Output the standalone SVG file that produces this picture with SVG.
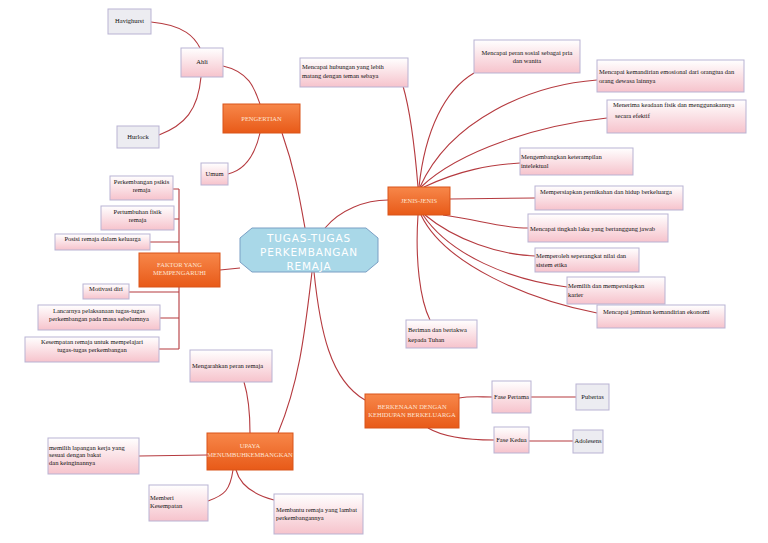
<svg xmlns="http://www.w3.org/2000/svg" width="768" height="543" viewBox="0 0 768 543">
<defs>
<linearGradient id="pk" x1="0" y1="0" x2="0" y2="1"><stop offset="0" stop-color="#ffffff"/><stop offset="1" stop-color="#f6c3cc"/></linearGradient>
<linearGradient id="or" x1="0" y1="0" x2="0" y2="1"><stop offset="0" stop-color="#f7874a"/><stop offset="1" stop-color="#e85a18"/></linearGradient>
</defs>
<style>
.p{fill:url(#pk);stroke:#b9b3d3;stroke-width:1}
.g{fill:#ececf1;stroke:#b9b3d3;stroke-width:1}
.o{fill:url(#or);stroke:#d9541a;stroke-width:1}
text{font-family:"Liberation Serif",serif;font-size:6.5px;fill:#111}
.ot{fill:#fde3d3;text-anchor:middle}
.c{text-anchor:middle}
#conn path{fill:none;stroke:#b53a3f;stroke-width:1.1}
</style>
<rect width="768" height="543" fill="#fff"/>
<g id="conn">
<path d="M151,22 C185,25 195,38 200,48"/>
<path d="M223,66 C250,72 255,90 260,104"/>
<path d="M201,77 C198,110 185,125 159,135"/>
<path d="M260,133 C255,155 245,170 228,174"/>
<path d="M282,133 C295,170 300,200 305,228"/>
<path d="M325,228 C340,210 365,200 388,200"/>
<path d="M240,268 L220,270"/>
<path d="M179,189 L179,349 M173,189 L179,189 M174,219 L179,219 M150,242 L179,242 M129,292 L179,292 M160,318 L179,318 M159,349 L179,349 M179,287 L179,287"/>
<path d="M418,187 C415,150 410,110 403,86"/>
<path d="M419,187 C425,130 445,90 474,73"/>
<path d="M420,187 C450,120 530,85 597,80"/>
<path d="M421,187 C460,150 540,125 607,118"/>
<path d="M424,187 C460,170 490,165 520,163"/>
<path d="M450,199 L535,198"/>
<path d="M443,215 C480,220 500,228 528,228"/>
<path d="M425,215 C455,240 500,255 535,256"/>
<path d="M423,215 C450,255 510,280 567,287"/>
<path d="M421,215 C445,265 530,300 597,313"/>
<path d="M418,215 C415,260 420,300 430,320"/>
<path d="M312,272 C305,330 300,380 278,433"/>
<path d="M314,272 C320,330 330,380 365,400"/>
<path d="M459,398 C470,396 480,397 492,397 M531,397 L576,397"/>
<path d="M428,428 C445,438 470,440 494,440 M529,441 L573,441"/>
<path d="M250,433 C250,410 248,395 244,382"/>
<path d="M207,455 L139,456"/>
<path d="M233,470 C230,490 225,495 208,501"/>
<path d="M236,470 C240,485 255,495 274,500"/>
</g>
<g id="havighurst"><rect class="g" x="108" y="9" width="43" height="25"/><text class="c" x="129.5" y="23">Havighurst</text></g>
<g id="ahli"><rect class="p" x="181" y="48" width="42" height="29"/><text class="c" x="202" y="64">Ahli</text></g>
<g id="hurlock"><rect class="g" x="117" y="126" width="42" height="22"/><text class="c" x="138" y="139">Hurlock</text></g>
<g id="pengertian"><rect class="o" x="223" y="104" width="77" height="29"/><text class="ot" x="261.5" y="121">PENGERTIAN</text></g>
<g id="umum"><rect class="p" x="201" y="163" width="27" height="22"/><text class="c" x="214.5" y="176">Umum</text></g>
<g id="pusat"><polygon points="252,228 366,228 378,238 378,262 366,272 252,272 240,262 240,238" fill="#a9d8e8" stroke="#7a9fc4" stroke-width="1"/>
<text x="309" y="242" style="font-family:'DejaVu Sans',sans-serif;font-size:10.5px;fill:#fff;text-anchor:middle;letter-spacing:0.8px">TUGAS-TUGAS</text>
<text x="309" y="256" style="font-family:'DejaVu Sans',sans-serif;font-size:10.5px;fill:#fff;text-anchor:middle;letter-spacing:0.8px">PERKEMBANGAN</text>
<text x="309" y="270" style="font-family:'DejaVu Sans',sans-serif;font-size:10.5px;fill:#fff;text-anchor:middle;letter-spacing:0.8px">REMAJA</text></g>
<g id="psikis"><rect class="p" x="110" y="176" width="63" height="24"/><text class="c" x="141.5" y="184">Perkembangan psikis</text><text class="c" x="141.5" y="192">remaja</text></g>
<g id="fisik"><rect class="p" x="101" y="206" width="73" height="24"/><text class="c" x="137.5" y="214">Pertumbuhan fisik</text><text class="c" x="137.5" y="222">remaja</text></g>
<g id="posisi"><rect class="p" x="55" y="234" width="95" height="16"/><text class="c" x="102.5" y="241">Posisi remaja dalam keluarga</text></g>
<g id="faktor"><rect class="o" x="139" y="253" width="81" height="34"/><text class="ot" x="179.5" y="267">FAKTOR YANG</text><text class="ot" x="179.5" y="275">MEMPENGARUHI</text></g>
<g id="motivasi"><rect class="p" x="83" y="284" width="46" height="15"/><text class="c" x="106" y="291">Motivasi diri</text></g>
<g id="lancar"><rect class="p" x="38" y="305" width="122" height="25"/><text class="c" x="99" y="313">Lancarnya pelaksanaan tugas-tugas</text><text class="c" x="99" y="321">perkembangan pada masa sebelumnya</text></g>
<g id="kesempatan"><rect class="p" x="25" y="337" width="134" height="25"/><text class="c" x="92" y="344">Kesempatan remaja untuk mempelajari</text><text class="c" x="92" y="352">tugas-tugas perkembangan</text></g>
<g id="mengarahkan"><rect class="p" x="190" y="350" width="82" height="32"/><text x="192" y="368">Mengarahkan peran remaja</text></g>
<g id="upaya"><rect class="o" x="207" y="433" width="86" height="37"/><text class="ot" x="250" y="448">UPAYA</text><text class="ot" x="250" y="457">MENUMBUHKEMBANGKAN</text></g>
<g id="memilihlap"><rect class="p" x="48" y="438" width="91" height="36"/><text x="49" y="450">memilih lapangan kerja yang</text><text x="49" y="457">sesuai dengan bakat</text><text x="49" y="465">dan keinginannya</text></g>
<g id="memberi"><rect class="p" x="149" y="485" width="59" height="36"/><text x="150" y="500">Memberi</text><text x="150" y="508">Kesempatan</text></g>
<g id="membantu"><rect class="p" x="274" y="494" width="89" height="40"/><text x="276" y="512">Membantu remaja yang lambat</text><text x="276" y="520">perkembangannya</text></g>
<g id="hubungan"><rect class="p" x="300" y="58" width="108" height="29"/><text x="302" y="69">Mencapai hubungan yang lebih</text><text x="302" y="78">matang dengan teman sebaya</text></g>
<g id="peran"><rect class="p" x="474" y="40" width="106" height="33"/><text class="c" x="527" y="55">Mencapai peran sosial sebagai pria</text><text class="c" x="527" y="63">dan wanita</text></g>
<g id="emosional"><rect class="p" x="597" y="60" width="147" height="32"/><text x="599" y="74">Mencapai kemandirian emosional dari orangtua dan</text><text x="599" y="83">orang dewasa lainnya</text></g>
<g id="menerima"><rect class="p" x="607" y="100" width="139" height="33"/><text x="613" y="107">Menerima keadaan fisik dan menggunakannya</text><text x="615" y="118">secara efektif</text></g>
<g id="intelektual"><rect class="p" x="520" y="148" width="113" height="27"/><text x="521" y="159">Mengembangkan keterampilan</text><text x="521" y="168">intelektual</text></g>
<g id="jenis"><rect class="o" x="388" y="187" width="62" height="28"/><text class="ot" x="419" y="203">JENIS-JENIS</text></g>
<g id="pernikahan"><rect class="p" x="535" y="186" width="148" height="24"/><text x="540" y="194">Mempersiapkan pernikahan dan hidup berkeluarga</text></g>
<g id="tingkah"><rect class="p" x="528" y="214" width="140" height="28"/><text x="530" y="231">Mencapai tingkah laku yang bertanggung jawab</text></g>
<g id="nilai"><rect class="p" x="535" y="248" width="104" height="24"/><text x="536" y="258">Memperoleh seperangkat nilai dan</text><text x="536" y="267">sistem etika</text></g>
<g id="karier"><rect class="p" x="567" y="277" width="98" height="27"/><text x="568" y="288">Memilih dan mempersiapkan</text><text x="568" y="297">karier</text></g>
<g id="ekonomi"><rect class="p" x="597" y="305" width="128" height="23"/><text x="603" y="314">Mencapai jaminan kemandirian ekonomi</text></g>
<g id="beriman"><rect class="p" x="406" y="320" width="71" height="28"/><text x="408" y="332">Beriman dan bertakwa</text><text x="408" y="342">kepada Tuhan</text></g>
<g id="berkeluarga"><rect class="o" x="365" y="394" width="94" height="34"/><text class="ot" x="412" y="409">BERKENAAN DENGAN</text><text class="ot" x="412" y="417">KEHIDUPAN BERKELUARGA</text></g>
<g id="fase1"><rect class="p" x="492" y="381" width="39" height="32"/><text class="c" x="511.5" y="399">Fase Pertama</text></g>
<g id="pubertas"><rect class="g" x="576" y="384" width="33" height="26"/><text class="c" x="592.5" y="399">Pubertas</text></g>
<g id="fase2"><rect class="p" x="494" y="427" width="35" height="26"/><text class="c" x="511.5" y="442">Fase Kedua</text></g>
<g id="adolesens"><rect class="g" x="573" y="430" width="30" height="23"/><text class="c" x="588" y="443">Adolesens</text></g>
</svg>
